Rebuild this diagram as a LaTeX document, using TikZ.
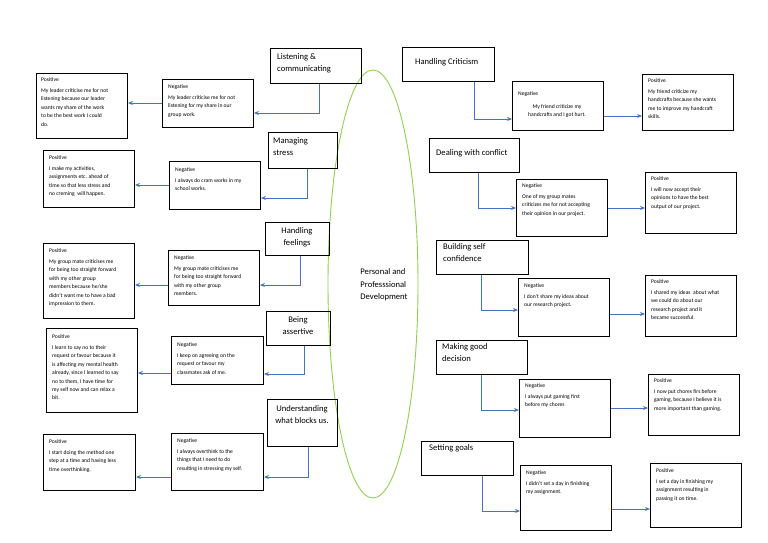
\documentclass[tikz,border=0pt]{standalone}
\usepackage{fontspec}
\setmainfont{Carlito}
\usetikzlibrary{calc,arrows.meta,shapes.geometric}
\definecolor{arr}{RGB}{68,114,196}
\definecolor{grn}{RGB}{146,208,80}
\tikzset{
  box/.style={draw=black,line width=0.9pt,anchor=north west,inner sep=0pt},
  small/.style={anchor=north west,inner sep=0pt,font=\fontsize{5.6}{8.4}\selectfont,align=left},
  ttl/.style={anchor=north west,inner sep=0pt,font=\fontsize{8.6}{12.5}\selectfont,align=left},
  conn/.style={draw=arr,line width=1pt,-{Stealth[length=5pt,width=4pt]}}
}
\newcommand{\bx}[5]{% name, x1,y1,x2,y2
  \node[box,minimum width={#4-#2},minimum height={#5-#3}] (#1) at (#2,#3) {};}
\begin{document}
\begin{tikzpicture}[x=1pt,y=-1pt]
\useasboundingbox[fill=white] (0,0) rectangle (768,543);
% ellipse
\node[draw=grn,line width=0.9pt,ellipse,minimum width=90,minimum height=428,inner sep=0pt] (c) at (373,284) {};
\node[font=\fontsize{8.6}{12.5}\selectfont,align=left] (ct) at (384,285) {Personal and\\Professsional\\Development};
% ---------- left
\bx{t1}{270}{48}{361}{83}
\node[ttl] at (277,53) {Listening \&\\communicating};
\bx{n1}{162}{79}{253}{127}
\node[small] at (168,84) {Negative\\[3pt]My leader criticise me for not\\listening for my share in our\\group work.};
\bx{p1}{36}{73}{127}{138}
\node[small] at (41,77) {Positive\\[3pt]My leader criticise me for not\\listening because our leader\\wants my share of the work\\to be the best work I could\\do.};
\bx{t2}{268}{132}{337}{168}
\node[ttl] at (273,137) {Managing\\stress};
\bx{n2}{169}{161}{260}{209}
\node[small] at (175,167) {Negative\\[3pt]I always do cram works in my\\school works.};
\bx{p2}{43}{150}{134}{207}
\node[small] at (49,155) {Positive\\[3pt]I make my activities,\\assignments etc. ahead of\\time so that less stress and\\no creming\ \ will happen.};
\bx{t3}{265}{222}{329}{255}
\node[ttl,align=center,anchor=north] at (297,227) {Handling\\feelings};
\bx{n3}{168}{250}{259}{305}
\node[small] at (174,255) {Negative\\[3pt]My group mate criticises me\\for being too straight forward\\with my other group\\members.};
\bx{p3}{43}{243}{134}{318}
\node[small] at (49,248) {Positive\\[3pt]My group mate criticises me\\for being too straight forward\\with my other group\\members because he/she\\didn't want me to have a bad\\impression to them.};
\bx{t4}{266}{311}{330}{345}
\node[ttl,align=center,anchor=north] at (298,316) {Being\\assertive};
\bx{n4}{171}{336}{263}{384}
\node[small] at (177,342) {Negative\\[3pt]I keep on agreeing on the\\request or favour my\\classmates ask of me.};
\bx{p4}{46}{328}{137}{412}
\node[small] at (52,334) {Positive\\[3pt]I learn to say no to their\\request or favour because it\\is affecting my mental health\\already, since I learned to say\\no to them, I have time for\\my self now and can relax a\\bit.};
\bx{t5}{267}{399}{337}{446}
\node[ttl,align=center,anchor=north] at (302,405) {Understanding\\what blocks us.};
\bx{n5}{171}{433}{263}{490}
\node[small] at (177,438) {Negative\\[3pt]I always overthink to the\\things that I need to do\\resulting in stressing my self.};
\bx{p5}{43}{434}{135}{490}
\node[small] at (49,439) {Positive\\[3pt]I start doing the method one\\step at a time and having less\\time overthinking.};
% left connectors
\draw[conn] (t1.south -| 319,0) |- (n1.east |- 0,113);
\draw[conn] (n1.west |- 0,103) -- (p1.east |- 0,103);
\draw[conn] (t2.south -| 307,0) |- (n2.east |- 0,198);
\draw[conn] (n2.west |- 0,185) -- (p2.east |- 0,185);
\draw[conn] (t3.south -| 300,0) |- (n3.east |- 0,285);
\draw[conn] (n3.west |- 0,285) -- (p3.east |- 0,285);
\draw[conn] (t4.south -| 304,0) |- (n4.east |- 0,374);
\draw[conn] (n4.west |- 0,373) -- (p4.east |- 0,373);
\draw[conn] (t5.south -| 308,0) |- (n5.east |- 0,477);
\draw[conn] (n5.west |- 0,477) -- (p5.east |- 0,477);
% ---------- right
\bx{r1}{402}{47}{494}{81}
\node[ttl] at (415,58) {Handling Criticism};
\bx{m1}{512}{81}{603}{130}
\node[small] at (518,91) {Negative};
\node[small,align=center,anchor=north] at (557,104) {My friend criticize my\\handcrafts and I got hurt.};
\bx{q1}{642}{74}{733}{130}
\node[small] at (648,78) {Positive\\[3pt]My friend criticize my\\handcrafts because she wants\\me to improve my handcraft\\skills.};
\bx{r2}{429}{138}{519}{172}
\node[ttl] at (436,149) {Dealing with conflict};
\bx{m2}{516}{179}{607}{236}
\node[small] at (522,183) {Negative\\[3pt]One of my group mates\\criticizes me for not accepting\\their opinion in our project.};
\bx{q2}{645}{172}{736}{233}
\node[small] at (651,176) {Positive\\[3pt]I will now accept their\\opinions to have the best\\output of our project.};
\bx{r3}{436}{240}{528}{274}
\node[ttl] at (443,243) {Building self\\confidence};
\bx{m3}{518}{278}{609}{336}
\node[small] at (524,283) {Negative\\[3pt]I don't share my ideas about\\our research project.};
\bx{q3}{645}{275}{736}{336}
\node[small] at (651,279) {Positive\\[3pt]I shared my ideas\ \ about what\\we could do about our\\research project and it\\became successful.};
\bx{r4}{436}{340}{527}{374}
\node[ttl] at (442,343) {Making good\\decision};
\bx{m4}{519}{379}{610}{437}
\node[small] at (525,383) {Negative\\[3pt]I always put gaming first\\before my chores};
\bx{q4}{648}{374}{739}{435}
\node[small] at (654,378) {Positive\\[3pt]I now put chores firs before\\gaming, because I believe it is\\more important than gaming.};
\bx{r5}{421}{441}{513}{475}
\node[ttl] at (429,444) {Setting goals};
\bx{m5}{520}{465}{611}{530}
\node[small] at (526,470) {Negative\\[3pt]I didn't set a day in finishing\\my assignment.};
\bx{q5}{650}{463}{741}{527}
\node[small] at (656,468) {Positive\\[3pt]I set a day in finishing my\\assignment resulting in\\passing it on time.};
% right connectors
\draw[conn] (r1.south -| 474,0) |- (m1.west |- 0,119);
\draw[conn] (m1.east |- 0,116) -- (q1.west |- 0,116);
\draw[conn] (r2.south -| 478,0) |- (m2.west |- 0,208);
\draw[conn] (m2.east |- 0,208) -- (q2.west |- 0,208);
\draw[conn] (r3.south -| 481,0) |- (m3.west |- 0,310);
\draw[conn] (m3.east |- 0,314) -- (q3.west |- 0,314);
\draw[conn] (r4.south -| 481,0) |- (m4.west |- 0,410);
\draw[conn] (m4.east |- 0,408) -- (q4.west |- 0,408);
\draw[conn] (r5.south -| 482,0) |- (m5.west |- 0,511);
\draw[conn] (m5.east |- 0,509) -- (q5.west |- 0,509);
\end{tikzpicture}
\end{document}
